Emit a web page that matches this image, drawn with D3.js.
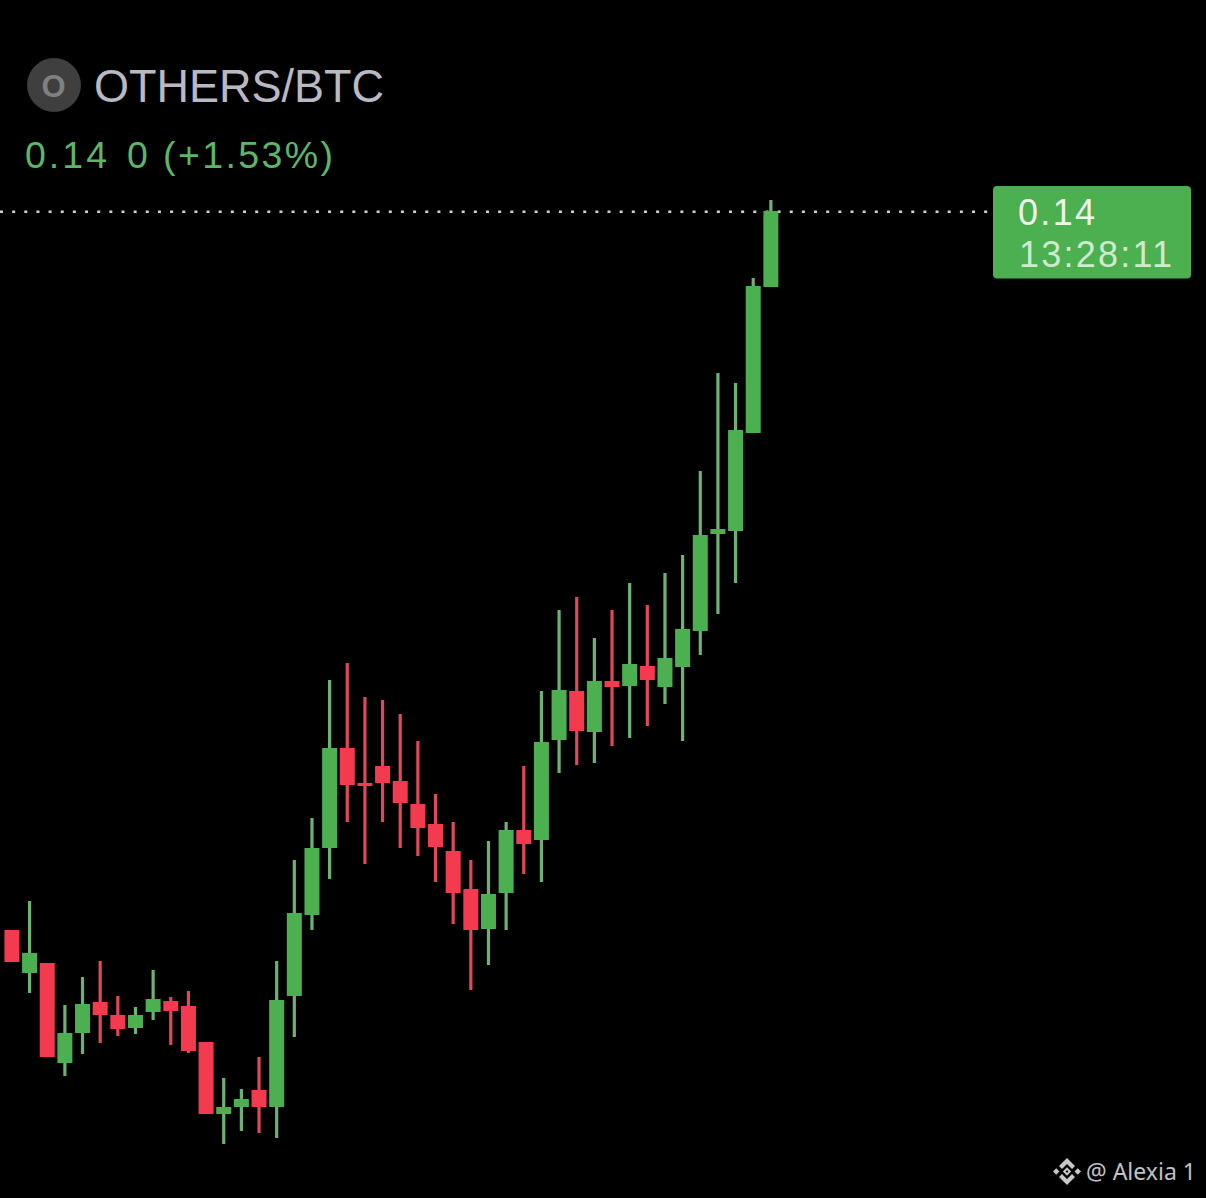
<!DOCTYPE html>
<html><head><meta charset="utf-8">
<script src="https://cdn.jsdelivr.net/npm/d3@7/dist/d3.min.js"></script>
<style>html,body{margin:0;padding:0;background:#000;overflow:hidden}svg{display:block}</style>
</head><body><div id="chart"></div>
<script>
const opens = [0.119868,0.118664,0.118944,0.116144,0.116984,0.117852,0.117488,0.117124,0.117572,0.117880,0.117740,0.116732,0.114716,0.114912,0.115388,0.114912,0.118020,0.120288,0.122164,0.124964,0.123984,0.124460,0.124040,0.123396,0.122836,0.122080,0.121016,0.119896,0.120904,0.122668,0.122388,0.125188,0.126560,0.125412,0.126840,0.126700,0.127260,0.126672,0.127232,0.128240,0.130956,0.131040,0.133784,0.137872];
const highs = [0.119868,0.120680,0.118944,0.117768,0.118552,0.119000,0.118020,0.117712,0.118748,0.117992,0.118160,0.116732,0.115724,0.115416,0.116312,0.119000,0.121828,0.123004,0.126868,0.127344,0.126392,0.126308,0.125916,0.125160,0.123676,0.122892,0.121828,0.122360,0.122892,0.124460,0.126560,0.128828,0.129192,0.128044,0.128828,0.129584,0.128968,0.129864,0.130368,0.132720,0.135464,0.135184,0.138124,0.140308];
const lows = [0.118972,0.118104,0.116312,0.115780,0.116396,0.116704,0.116900,0.116956,0.117348,0.116648,0.116424,0.114716,0.113876,0.114240,0.114184,0.114044,0.116872,0.119868,0.121296,0.122892,0.121716,0.122892,0.122164,0.121940,0.121212,0.120036,0.118188,0.118888,0.119868,0.121436,0.121212,0.124264,0.124488,0.124544,0.125020,0.125244,0.125580,0.126196,0.125160,0.127568,0.128716,0.129584,0.133784,0.137872];
const closes = [0.118972,0.119224,0.116312,0.116984,0.117796,0.117488,0.117096,0.117488,0.117936,0.117600,0.116480,0.114716,0.114912,0.115136,0.114912,0.117908,0.120344,0.122164,0.124964,0.123928,0.123900,0.123984,0.123424,0.122724,0.122192,0.120904,0.119868,0.120876,0.122668,0.122276,0.125132,0.126588,0.125440,0.126840,0.126672,0.127316,0.126868,0.127484,0.128296,0.130928,0.131096,0.133868,0.137900,0.140000];
const symbol = "OTHERS/BTC";
const lastPrice = "0.14", change = "0", changePct = "(+1.53%)", countdown = "13:28:11", credit = "@ Alexia 1";

const candles = opens.map((o,i)=>({i,o,h:highs[i],l:lows[i],c:closes[i]}));
const W=1206,H=1198;
const GREEN="#4caf50",RED="#f33a4e",GW="#6db274",RW="#e2475b";
const svg=d3.select("#chart").append("svg").attr("width",W).attr("height",H);
svg.append("rect").attr("width",W).attr("height",H).attr("fill","#000");

const x=d3.scaleBand().domain(candles.map(d=>d.i)).range([3.1,779.7]).paddingInner(0.15).paddingOuter(0.075);
const y=d3.scaleLinear().domain([0.14,0.112]).range([211,1211]);
const cx=d=>x(d.i)+x.bandwidth()/2;
const up=d=>d.c>=d.o;

// last price line
svg.append("line").attr("x1",0).attr("x2",990).attr("y1",y(0.14)+0.7).attr("y2",y(0.14)+0.7)
  .attr("stroke","#c9d6c9").attr("stroke-width",2.6).attr("stroke-dasharray","3 9.15");

const g=svg.append("g").selectAll("g").data(candles).join("g");
g.append("line").attr("x1",cx).attr("x2",cx).attr("y1",d=>y(d.h)).attr("y2",d=>y(d.l))
  .attr("stroke",d=>up(d)?GW:RW).attr("stroke-width",3.2);
g.append("rect").attr("x",d=>x(d.i)).attr("width",x.bandwidth())
  .attr("y",d=>y(Math.max(d.o,d.c))).attr("height",d=>Math.abs(y(d.o)-y(d.c)))
  .attr("fill",d=>up(d)?GREEN:RED);

const sans="'Liberation Sans',Arial,sans-serif";
// header
svg.append("circle").attr("cx",54).attr("cy",85).attr("r",27).attr("fill","#3f3f3f");
svg.append("text").attr("x",53.5).attr("y",97).attr("text-anchor","middle").attr("font-family",sans)
  .attr("font-weight",700).attr("font-size",31).attr("fill","#808080").text("O");
svg.append("text").attr("x",94).attr("y",102).attr("font-family",sans).attr("font-size",46)
  .attr("fill","#b9b9c2").attr("textLength",290).attr("lengthAdjust","spacingAndGlyphs").text(symbol);

const sub=[[lastPrice,25,82],[change,127,22],[changePct,163,170]];
svg.selectAll("text.sub").data(sub).join("text").attr("class","sub")
  .attr("x",d=>d[1]).attr("y",168).attr("font-family",sans).attr("font-size",37.5)
  .attr("fill","#5fb567").attr("textLength",d=>d[2]).attr("lengthAdjust","spacing").text(d=>d[0]);

// price tag
svg.append("rect").attr("x",993).attr("y",186).attr("width",198).attr("height",92.5).attr("rx",4).attr("fill",GREEN);
svg.append("text").attr("x",1018).attr("y",225).attr("font-family",sans).attr("font-size",36)
  .attr("fill","#eef7ee").attr("textLength",77).attr("lengthAdjust","spacing").text(lastPrice);
svg.append("text").attr("x",1019).attr("y",267).attr("font-family",sans).attr("font-size",36)
  .attr("fill","#cfeacf").attr("textLength",153).attr("lengthAdjust","spacing").text(countdown);

// watermark
const ic=svg.append("g").attr("transform","translate(1067,1171.5)").attr("fill","#c8c8c8");
ic.append("path").attr("d","M0,-13.5 L8,-5.5 L5,-2.6 L0,-7.4 L-5,-2.6 L-8,-5.5 Z");
ic.append("path").attr("d","M0,13.5 L8,5.5 L5,2.6 L0,7.4 L-5,2.6 L-8,5.5 Z");
ic.append("path").attr("d","M-14,0 L-10.8,-3.2 L-7.6,0 L-10.8,3.2 Z");
ic.append("path").attr("d","M14,0 L10.8,-3.2 L7.6,0 L10.8,3.2 Z");
ic.append("path").attr("fill-rule","evenodd").attr("d","M0,-4.2 L4.2,0 L0,4.2 L-4.2,0 Z M0,-1.4 L-1.4,0 L0,1.4 L1.4,0 Z");
svg.append("text").attr("x",1086).attr("y",1180).attr("font-family","'Noto Sans',sans-serif").attr("font-size",23)
  .attr("fill","#c2c2c2").attr("textLength",110).attr("lengthAdjust","spacingAndGlyphs").text(credit);
</script></body></html>
